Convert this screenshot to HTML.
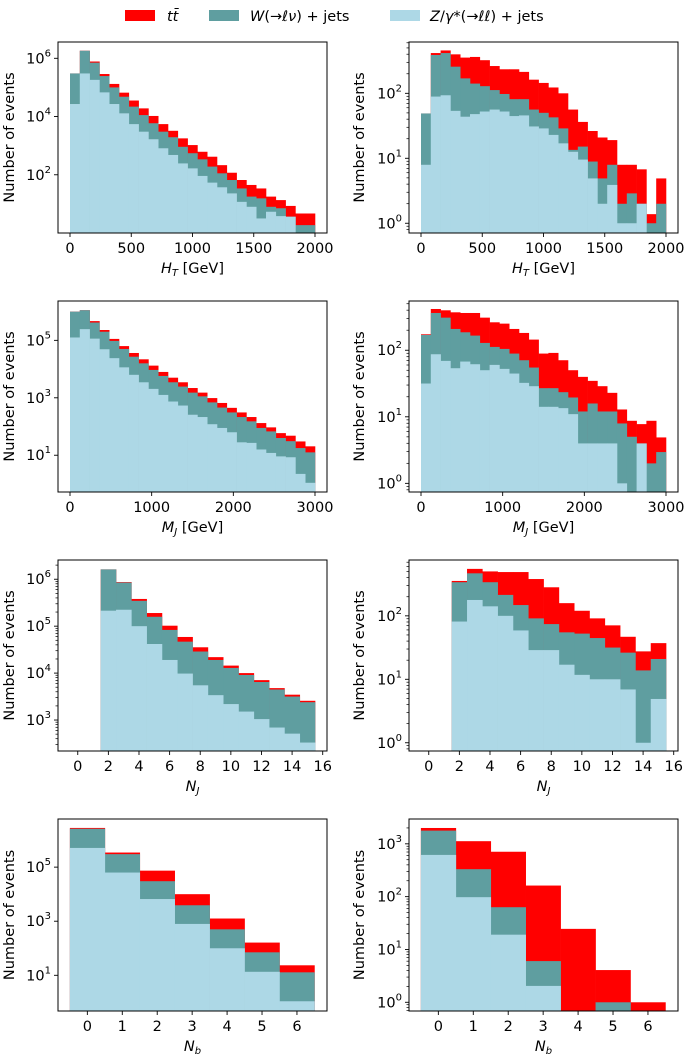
<!DOCTYPE html>
<html><head><meta charset="utf-8">
<style>
html,body{margin:0;padding:0;background:#fff;}
svg{display:block;font-family:"DejaVu Sans","Liberation Sans",sans-serif;}
</style></head>
<body>
<svg id="fig" width="685" height="1055" viewBox="0 0 685 1055" xmlns="http://www.w3.org/2000/svg">
<g>
  <g>
    <rect x="125" y="10" width="30" height="11" fill="#ff0000"/>
    <text x="167" y="21" font-size="14.5" font-style="italic">tt̄</text>
  </g>
  <g>
    <rect x="209" y="10" width="30" height="11" fill="#5f9ea0"/>
    <text x="250" y="21" font-size="14.5"><tspan font-style="italic">W</tspan>(→ℓ<tspan font-style="italic">ν</tspan>) + jets</text>
  </g>
  <g>
    <rect x="390" y="10" width="30" height="11" fill="#add8e6"/>
    <text x="430" y="21" font-size="14.5"><tspan font-style="italic">Z</tspan>/<tspan font-style="italic">γ</tspan>*(→ℓℓ) + jets</text>
  </g>
</g>
</svg>
<script>
// ---- data (log10 of stacked cumulative counts; null = empty) ----
const htLeftZ  = [4.43,5.48,5.26,4.83,4.43,4.11,3.74,3.48,3.22,2.91,2.68,2.39,2.22,1.96,1.73,1.57,1.36,1.07,0.90,0.50,0.73,0.58,0.56,null,null];
const htLeftW  = [5.48,6.26,5.85,5.39,5.0,4.68,4.34,4.05,3.77,3.48,3.29,2.96,2.74,2.53,2.28,2.05,1.82,1.53,1.25,1.19,0.90,0.85,0.56,0.27,0.27];
const htLeftT  = [5.48,6.26,5.89,5.46,5.12,4.82,4.55,4.28,4.02,3.74,3.51,3.25,3.02,2.79,2.62,2.33,2.07,1.82,1.65,1.53,1.25,1.13,0.93,0.67,0.67];
const htRightZ = [0.9,1.95,1.97,1.73,1.64,1.68,1.72,1.75,1.72,1.65,1.66,1.49,1.46,1.36,1.23,1.1,0.98,0.69,0.3,0.59,0,0,0.3,null,null];
const htRightW = [1.69,2.59,2.62,2.41,2.23,2.15,2.11,2.05,1.99,1.91,1.91,1.75,1.7,1.63,1.46,1.13,1.18,0.95,0.69,0.9,0.3,0.46,0.3,0,0.3];
const htRightT = [1.69,2.62,2.66,2.6,2.55,2.56,2.51,2.42,2.37,2.37,2.33,2.21,2.16,2.09,2.0,1.75,1.56,1.42,1.32,1.28,0.9,0.9,0.83,0.14,0.69];
const mjLeftZ  = [5.1,5.39,5.06,4.69,4.38,4.06,3.8,3.54,3.31,3.1,2.87,2.73,2.41,2.33,2.08,1.95,1.8,1.45,1.43,1.2,1.08,0.96,0.93,0.35,0.04];
const mjLeftW  = [6.0,6.05,5.62,5.3,4.98,4.7,4.43,4.2,3.97,3.76,3.54,3.39,3.18,3.05,2.84,2.66,2.49,2.33,2.18,1.95,1.83,1.6,1.49,1.25,1.1];
const mjLeftT  = [6.0,6.05,5.67,5.36,5.05,4.8,4.56,4.34,4.12,3.9,3.7,3.54,3.34,3.18,2.99,2.82,2.65,2.49,2.33,2.12,1.97,1.77,1.68,1.48,1.31];
const mjRightZ = [1.5,1.94,1.84,1.73,1.83,1.79,1.7,1.78,1.72,1.65,1.51,1.46,1.15,1.15,1.13,1.04,0.6,0.6,0.6,0.6,0,null,0.6,null,null];
const mjRightW = [2.23,2.56,2.49,2.32,2.27,2.22,2.11,2.05,2.02,1.95,1.85,1.74,1.43,1.43,1.37,1.29,1.08,1.2,1.08,1.08,0.9,0.7,0.6,0.3,0.47];
const mjRightT = [2.24,2.62,2.6,2.57,2.56,2.56,2.49,2.42,2.4,2.32,2.26,2.16,1.95,1.96,1.85,1.7,1.6,1.54,1.46,1.36,1.11,0.94,0.89,0.94,0.69];
const njLeftZ  = [5.33,5.35,5.0,4.62,4.28,3.99,3.74,3.53,3.34,3.18,3.02,2.84,2.71,2.52];
const njLeftW  = [6.21,5.93,5.54,5.2,4.92,4.67,4.46,4.28,4.11,3.96,3.81,3.65,3.5,3.38];
const njLeftT  = [6.21,5.94,5.58,5.28,5.01,4.77,4.55,4.34,4.16,4.0,3.85,3.68,3.54,3.41];
const njRightZ = [1.91,2.25,2.15,2.0,1.77,1.46,1.46,1.23,1.07,1.0,1.0,0.84,0,0.69];
const njRightW = [2.53,2.67,2.53,2.33,2.17,1.96,1.87,1.74,1.72,1.65,1.5,1.42,1.14,1.32];
const njRightT = [2.55,2.74,2.7,2.69,2.69,2.58,2.45,2.2,2.08,1.96,1.85,1.67,1.44,1.57];
const nbLeftZ  = [5.71,4.8,3.82,2.9,2.0,1.13,0.04];
const nbLeftW  = [6.42,5.48,4.48,3.59,2.7,1.85,1.11];
const nbLeftT  = [6.45,5.54,4.87,4.0,3.1,2.21,1.37];
const nbRightZ = [2.79,1.99,1.28,0.31,null,null,null];
const nbRightW = [3.25,2.52,1.8,0.78,null,0,null];
const nbRightT = [3.3,3.05,2.85,2.21,1.39,0.61,0];
const htTicks = [0,500,1000,1500,2000];
const mjTicks = [0,1000,2000,3000];
const njTicks = [0,2,4,6,8,10,12,14,16];
const nbTicks = [0,1,2,3,4,5,6];

const NS="http://www.w3.org/2000/svg";
const svg=document.getElementById('fig');
function el(tag,attrs,parent){const e=document.createElementNS(NS,tag);for(const k in attrs)e.setAttribute(k,attrs[k]);(parent||svg).appendChild(e);return e;}

const FS=14.5;
const panels=[
 {name:'ht-left',box:[58,42,327,233],xr:[-98,2098],yr:[0.0,6.56],yt:[2,4,6],minor:false,edges:[0,2000,25],Z:htLeftZ,W:htLeftW,T:htLeftT,xt:htTicks,xl:'ht'},
 {name:'ht-right',box:[409,42,678,233],xr:[-98,2098],yr:[-0.15,2.79],yt:[0,1,2],minor:true,edges:[0,2000,25],Z:htRightZ,W:htRightW,T:htRightT,xt:htTicks,xl:'ht'},
 {name:'mj-left',box:[58,301,327,492],xr:[-147,3147],yr:[-0.28,6.37],yt:[1,3,5],minor:false,edges:[0,3000,25],Z:mjLeftZ,W:mjLeftW,T:mjLeftT,xt:mjTicks,xl:'mj'},
 {name:'mj-right',box:[409,301,678,492],xr:[-147,3147],yr:[-0.13,2.74],yt:[0,1,2],minor:true,edges:[0,3000,25],Z:mjRightZ,W:mjRightW,T:mjRightT,xt:mjTicks,xl:'mj'},
 {name:'nj-left',box:[58,560,327,751],xr:[-1.29,16.28],yr:[2.34,6.41],yt:[3,4,5,6],minor:true,edges:[1.5,15.5,14],Z:njLeftZ,W:njLeftW,T:njLeftT,xt:njTicks,xl:'nj'},
 {name:'nj-right',box:[409,560,678,751],xr:[-1.29,16.28],yr:[-0.13,2.88],yt:[0,1,2],minor:true,edges:[1.5,15.5,14],Z:njRightZ,W:njRightW,T:njRightT,xt:njTicks,xl:'nj'},
 {name:'nb-left',box:[58,819,327,1011],xr:[-0.84,6.86],yr:[-0.32,6.78],yt:[1,3,5],minor:false,edges:[-0.5,6.5,7],Z:nbLeftZ,W:nbLeftW,T:nbLeftT,xt:nbTicks,xl:'nb'},
 {name:'nb-right',box:[409,819,678,1011],xr:[-0.84,6.86],yr:[-0.165,3.47],yt:[0,1,2,3],minor:true,edges:[-0.5,6.5,7],Z:nbRightZ,W:nbRightW,T:nbRightT,xt:nbTicks,xl:'nb'}
];

panels.forEach(p=>{
  const [x0,y0,x1,y1]=p.box;
  const g=el('g',{});
  
  
  const X=v=>x0+(v-p.xr[0])/(p.xr[1]-p.xr[0])*(x1-x0);
  const Y=l=>y1-(l-p.yr[0])/(p.yr[1]-p.yr[0])*(y1-y0);
  const clip=el('clipPath',{id:'c-'+p.name},g);
  el('rect',{x:x0,y:y0,width:x1-x0,height:y1-y0},clip);
  const bars=el('g',{'clip-path':'url(#c-'+p.name+')'},g);
  const [e0,e1,n]=p.edges;const w=(e1-e0)/n;
  const layers=[[p.T,'#ff0000','ttbar'],[p.W,'#5f9ea0','wjets'],[p.Z,'#add8e6','zjets']];
  layers.forEach(([arr,col,lname])=>{
    for(let i=0;i<n;i++){
      const v=arr[i]; if(v===null||v===undefined) continue;
      const xa=X(e0+i*w), xb=X(e0+(i+1)*w), yt=Y(v);
      const r=el('rect',{x:xa,y:yt,width:xb-xa+0.3,height:Math.max(0,y1+5-yt),fill:col},bars);
      
      
    }
  });
  el('rect',{x:x0,y:y0,width:x1-x0,height:y1-y0,fill:'none',stroke:'#000','stroke-width':1},g);
  const yax=el('g',{},g);
  
  
  p.yt.forEach(t=>{
    const y=Y(t);
    el('line',{x1:x0-4,x2:x0,y1:y,y2:y,stroke:'#000','stroke-width':0.9},yax);
    const tx=el('text',{x:x0-7,y:y+5,'font-size':FS,'text-anchor':'end'},yax);
    tx.appendChild(document.createTextNode('10'));
    const s=el('tspan',{dy:-7,'font-size':10},tx);s.textContent=String(t);
  });
  if(p.minor){
    for(let d=Math.floor(p.yr[0]);d<=Math.ceil(p.yr[1]);d++){
      for(let m=2;m<=9;m++){const l=d+Math.log10(m); if(l<p.yr[0]||l>p.yr[1])continue;
        el('line',{x1:x0-2.5,x2:x0,y1:Y(l),y2:Y(l),stroke:'#000','stroke-width':0.7},yax);}
    }
  }
  const xax=el('g',{},g);
  
  
  p.xt.forEach(t=>{
    const x=X(t);
    el('line',{x1:x,x2:x,y1:y1,y2:y1+4,stroke:'#000','stroke-width':0.9},xax);
    const tx=el('text',{x:x,y:y1+20,'font-size':FS,'text-anchor':'middle'},xax);tx.textContent=String(t);
  });
  const xl=el('text',{x:(x0+x1)/2,y:y1+40,'font-size':FS,'text-anchor':'middle'},g);
  
  
  const sym={ht:['H','T',' [GeV]'],mj:['M','J',' [GeV]'],nj:['N','J',''],nb:['N','b','']}[p.xl];
  const a=el('tspan',{'font-style':'italic'},xl);a.textContent=sym[0];
  const b=el('tspan',{'font-style':'italic','font-size':10,dy:3},xl);b.textContent=sym[1];
  if(sym[2]){const c=el('tspan',{dy:-3},xl);c.textContent=sym[2];}
  const lx=p.name.endsWith('left')?14:364;
  const yl=el('text',{x:0,y:0,'font-size':FS,'text-anchor':'middle',transform:`translate(${lx},${(y0+y1)/2}) rotate(-90)`},g);
  
  
  yl.textContent='Number of events';
});
</script>
</body></html>
